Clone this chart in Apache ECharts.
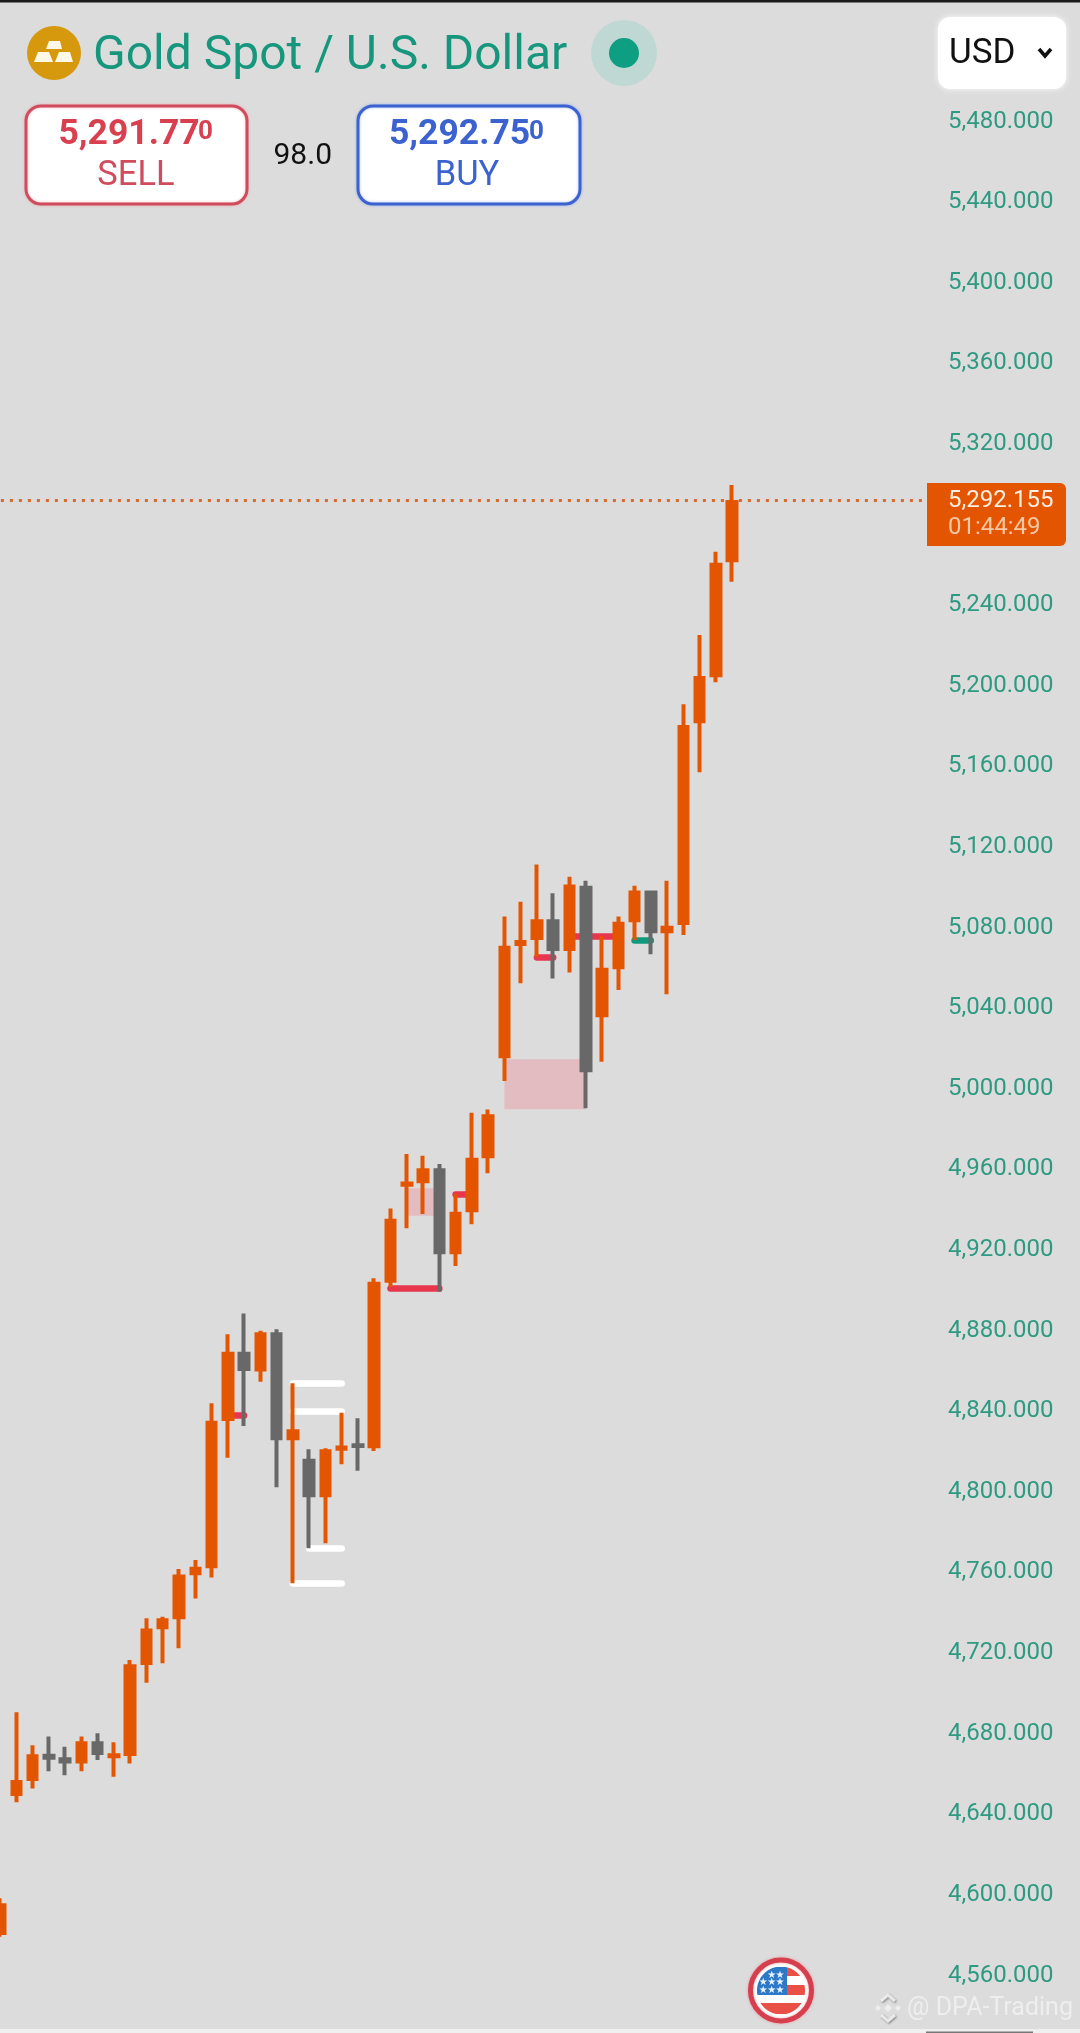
<!DOCTYPE html>
<html><head><meta charset="utf-8">
<style>html,body{margin:0;padding:0;background:#dcdcdc}#c{width:1080px;height:2033px}</style>
<script src="https://cdn.jsdelivr.net/npm/echarts@6/dist/echarts.min.js"></script>
</head><body><div id="c"></div>
<script>
const slotCount = 58;
const categories = Array.from({length: slotCount}, (_, i) => String(i));
const opens = [4581.05,4650.05,4657.55,4669.05,4667.25,4666.25,4675.25,4668.85,4669.95,4715.05,4732.75,4737.75,4759.55,4763.05,4836.15,4868.55,4860.65,4878.15,4826.55,4815.45,4798.25,4821.35,4823.15,4822.65,4904.75,4952.35,4954.15,4959.55,4918.85,4939.75,4966.55,5016.15,5071.85,5074.85,5083.15,5069.35,5099.75,5036.45,5060.35,5083.65,5097.35,5078.15,5082.25,5182.35,5205.25,5262.25];
const closes = [4594.85,4656.05,4668.75,4668.05,4666.25,4675.25,4670.45,4669.25,4713.45,4731.25,4736.25,4758.05,4761.85,4834.25,4868.55,4860.95,4878.15,4826.55,4830.05,4798.25,4820.15,4822.05,4822.75,4903.25,4934.55,4953.05,4959.55,4918.85,4937.95,4964.75,4986.35,5070.05,5072.85,5083.15,5069.35,5100.45,5009.15,5059.05,5081.95,5097.35,5078.15,5079.95,5179.55,5203.85,5260.05,5291.15];
const lows = [4579.25,4645.95,4652.85,4661.35,4659.35,4661.35,4666.95,4658.65,4665.25,4705.25,4714.95,4722.35,4747.05,4757.55,4816.95,4832.65,4854.65,4802.25,4754.65,4771.95,4774.45,4813.65,4810.45,4820.25,4901.65,4930.75,4937.85,4899.25,4912.05,4932.75,4958.05,5003.85,5052.35,5065.45,5054.75,5057.75,4990.35,5013.45,5049.05,5073.85,5066.75,5046.95,5076.35,5157.05,5201.75,5251.65];
const highs = [4598.35,4690.65,4674.25,4678.55,4673.55,4678.55,4680.15,4675.75,4716.55,4737.25,4738.05,4761.75,4766.15,4843.95,4878.15,4888.55,4879.95,4880.65,4853.85,4821.15,4821.65,4839.25,4836.55,4905.95,4940.65,4967.65,4966.75,4962.65,4947.75,4988.15,4989.75,5085.45,5092.85,5111.35,5097.05,5105.25,5103.25,5075.65,5085.45,5100.75,5098.35,5103.25,5190.85,5225.15,5266.55,5299.65];
const levelStarts = [14,18,18,19,18,24,28,33,35,39];
const levelEnds   = [15,21,21,21,21,27,29,34,38,40];
const levelValues = [4838.05,4853.85,4839.75,4771.95,4754.65,4900.95,4947.65,5065.25,5075.65,5073.85];
const levelKinds  = ['red','white','white','white','white','red','red','red','red','teal'];
const zoneStarts = [31,25];
const zoneEnds   = [36,27];
const zoneTops   = [5014.65,4950.65];
const zoneBottoms= [4989.85,4937.05];
const lastPrice = 5292.155;
const axisMin = 4560, axisMax = 5480, axisStep = 40;

const kindColor = {red:'#e8364f', white:'#ffffff', teal:'#12997d'};
const orange = '#e35500', gray = '#686868', teal = '#2e9a82', FONT = 'Roboto';

const T = (text,x,y,size,fill,opt={}) => ({type:'text',x,y,z:100,silent:true,style:Object.assign({text,fill,font:`${opt.w||400} ${size}px ${FONT}`,textAlign:opt.a||'left',textVerticalAlign:'middle'},opt.s||{})});
const R = (x,y,w,h,r,fill,stroke,lw,extra={}) => ({type:'rect',z:90,silent:true,shape:{x,y,width:w,height:h,r},style:Object.assign({fill,stroke:stroke||null,lineWidth:lw||0},extra)});
const C = (cx,cy,r,fill,extra={}) => ({type:'circle',z:90,silent:true,shape:{cx,cy,r},style:Object.assign({fill},extra)});
const P = (points,fill,z=95) => ({type:'polygon',z,silent:true,shape:{points},style:{fill}});
const discPart = (cx,cy,r,x0,x1,y0,y1) => {
  const L=[],Rt=[];
  for(let y=y0;y<=y1;y+=0.5){
    const hw=Math.sqrt(Math.max(0,r*r-(y-cy)*(y-cy)));
    const xl=Math.max(x0,cx-hw),xr=Math.min(x1,cx+hw);
    if(xr>xl){L.push([xl,y]);Rt.unshift([xr,y]);}
  }
  return L.concat(Rt);
};
const fx=781,fy=1990.5,fr=24;
const stars=[[771.7,1975],[780,1975],[763.3,1982.5],[771.7,1982.5],[780,1982.5],[763.3,1990.5],[771.7,1990.5],[780,1990.5]];
const wmk='rgba(240,240,240,0.9)';
const wsh={shadowBlur:2,shadowColor:'rgba(90,90,90,0.7)',shadowOffsetX:1,shadowOffsetY:1};
const chev=(pts)=>({type:'polyline',z:95,silent:true,shape:{points:pts},style:Object.assign({stroke:wmk,lineWidth:3,fill:null},wsh)});

const graphics = [
  R(0,0,1080,2.5,0,'#1a1a1a'),
  R(0,2029,1080,4,0,'#efefef'),
  R(926,2031.5,107,1.5,0,'#777'),
  // header icon + title
  C(54,53,27,'#d6980c'),
  P([[49,41],[60,41],[62,49],[46,49]],'#fff8e6'),
  P([[38,52],[49,52],[53,62],[34,62]],'#fff8e6'),
  P([[59,52],[70,52],[73,62],[55,62]],'#fff8e6'),
  T('Gold Spot / U.S. Dollar',93,56.5,48,'#16977d'),
  C(624,53,33,'#bfd8d3'),
  C(624,53,15,'#0e9e82'),
  // USD selector
  R(938,17,128,72,12,'#ffffff',null,0,{shadowBlur:6,shadowColor:'rgba(255,255,255,0.9)'}),
  T('USD',949,54.5,35,'#111111'),
  {type:'polyline',z:95,silent:true,shape:{points:[[1039,49],[1045,56],[1051,49]]},style:{stroke:'#111',lineWidth:3.5,fill:null}},
  // SELL / BUY
  R(26,106,221,98,15,'#ffffff','#d04b5c',3,{shadowBlur:3,shadowColor:'rgba(240,160,170,0.7)'}),
  T('5,291.77',58.5,135.5,35.5,'#d8404f',{w:700}),
  T('0',198,132,26,'#d8404f',{w:700}),
  T('SELL',136,176.5,34.5,'#d04b5c',{a:'center'}),
  T('98.0',273.5,156.5,30,'#111111'),
  R(358,106,222,98,15,'#ffffff','#3b62cf',3,{shadowBlur:3,shadowColor:'rgba(140,165,240,0.7)'}),
  T('5,292.75',389,135.5,35.5,'#3b62cf',{w:700}),
  T('0',529,132,26,'#3b62cf',{w:700}),
  T('BUY',467,176.5,34.5,'#3b62cf',{a:'center'}),
  // last price tag
  R(927,483,139,63,[0,6,6,0],orange),
  T('5,292.155',948,500.5,24,'#ffeee2'),
  T('01:44:49',948,527.5,24,'#f6c8a6'),
  // flag icon
  C(fx,fy,30.5,'#ffffff',{stroke:'#d63f4e',lineWidth:5,shadowBlur:3,shadowColor:'rgba(240,120,130,0.7)'}),
  P(discPart(fx,fy,fr,787,fx+fr,fy-fr,1976),'#ea5146',94),
  P(discPart(fx,fy,fr,787,fx+fr,1985,1995),'#ea5146',94),
  P(discPart(fx,fy,fr,fx-fr,fx+fr,2003,fy+fr),'#ea5146',94),
  P(discPart(fx,fy,fr,fx-fr,787,fy-fr,1995),'#2e78c8',94),
  ...stars.map(([x,y])=>T('★',x,y,10,'#e8f4ff',{a:'center',s:{font:'400 10px "DejaVu Sans"'}})),
  // watermark
  chev([[881,2001],[888,1995],[895,2001]]),
  chev([[881,2015],[888,2021],[895,2015]]),
  P([[888,2004],[892,2008],[888,2012],[884,2008]],wmk),
  P([[878,2005],[881,2008],[878,2011],[875,2008]],wmk),
  P([[898,2005],[901,2008],[898,2011],[895,2008]],wmk),
  T('@ DPA-Trading',907,2009,25,wmk,{s:wsh})
];

const chart = echarts.init(document.getElementById('c'), null, {renderer:'canvas'});
chart.setOption({
  animation:false,
  backgroundColor:'#dcdcdc',
  grid:{left:-8.1,top:121.5,width:16.27*slotCount,height:1854,containLabel:false,outerBoundsMode:'none'},
  xAxis:{type:'category',data:categories,boundaryGap:true,show:false},
  yAxis:{type:'value',position:'right',min:axisMin,max:axisMax,interval:axisStep,scale:true,
    axisLine:{show:false},axisTick:{show:false},splitLine:{show:false},
    axisLabel:{margin:12.5,color:teal,fontFamily:FONT,fontSize:24,
      formatter:v=>v.toLocaleString('en-US',{minimumFractionDigits:3,maximumFractionDigits:3})}},
  series:[{
    type:'candlestick',z:5,barWidth:9,clip:true,
    itemStyle:{color:orange,color0:gray,borderColor:orange,borderColor0:gray,borderWidth:4},
    data:opens.map((o,i)=>[o,closes[i],lows[i],highs[i]]),
    markArea:{silent:true,z:1,itemStyle:{color:'#e3bcc2'},
      data:zoneStarts.map((s,i)=>[{xAxis:s,yAxis:zoneTops[i]},{xAxis:zoneEnds[i],yAxis:zoneBottoms[i]}])},
    markLine:{silent:true,z:1,symbol:'none',animation:false,label:{show:false},
      data:[
        ...levelStarts.map((s,i)=>[
          {xAxis:s,yAxis:levelValues[i],lineStyle:{color:kindColor[levelKinds[i]],width:6.5,type:'solid',cap:'round'}},
          {xAxis:levelEnds[i],yAxis:levelValues[i]}]),
        {yAxis:lastPrice,lineStyle:{color:'#d9692c',width:3,type:[3,6]}}
      ]}
  }],
  graphic:{elements:graphics}
});
</script></body></html>
